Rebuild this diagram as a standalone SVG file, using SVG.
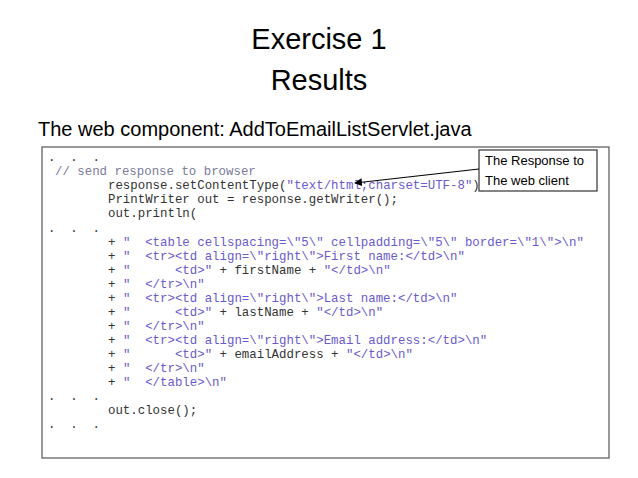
<svg xmlns="http://www.w3.org/2000/svg" width="638" height="478" viewBox="0 0 638 478">
<style>
.t{font-family:"Liberation Sans",Arial,sans-serif;fill:#000}
.c{font-family:"Liberation Mono","Courier New",monospace;font-size:12.4px;fill:#333;white-space:pre}
.s{fill:#6a5acd}
.m{fill:#7a7a9a}
</style>
<defs><marker id="ah" markerWidth="8" markerHeight="8" refX="7" refY="4" orient="auto" markerUnits="userSpaceOnUse"><path d="M0,0 L8,4 L0,8 z" fill="#000"/></marker></defs>
<rect width="638" height="478" fill="#fff"/>
<text class="t" x="319" y="49" font-size="29" text-anchor="middle">Exercise 1</text>
<text class="t" x="319" y="90" font-size="29" text-anchor="middle">Results</text>
<text class="t" x="38" y="136" font-size="20">The web component: AddToEmailListServlet.java</text>
<g id="code">
<rect x="42" y="147" width="567" height="311" fill="#fff" stroke="#555" stroke-width="1.2"/>
<text class="c" x="48" y="161">.  .  .</text>
<text class="c m" x="55" y="175">// send response to browser</text>
<text class="c" x="108" y="189">response.setContentType(<tspan class="s">"text/html;charset=UTF-8"</tspan>);</text>
<text class="c" x="108" y="203">PrintWriter out = response.getWriter();</text>
<text class="c" x="108" y="217">out.println(</text>
<text class="c" x="48" y="232">.  .  .</text>
<text class="c" x="108" y="246">+ <tspan class="s">"  &lt;table cellspacing=\"5\" cellpadding=\"5\" border=\"1\"&gt;\n"</tspan></text>
<text class="c" x="108" y="260">+ <tspan class="s">"  &lt;tr&gt;&lt;td align=\"right\"&gt;First name:&lt;/td&gt;\n"</tspan></text>
<text class="c" x="108" y="274">+ <tspan class="s">"      &lt;td&gt;"</tspan> + firstName + <tspan class="s">"&lt;/td&gt;\n"</tspan></text>
<text class="c" x="108" y="288">+ <tspan class="s">"  &lt;/tr&gt;\n"</tspan></text>
<text class="c" x="108" y="302">+ <tspan class="s">"  &lt;tr&gt;&lt;td align=\"right\"&gt;Last name:&lt;/td&gt;\n"</tspan></text>
<text class="c" x="108" y="316">+ <tspan class="s">"      &lt;td&gt;"</tspan> + lastName + <tspan class="s">"&lt;/td&gt;\n"</tspan></text>
<text class="c" x="108" y="330">+ <tspan class="s">"  &lt;/tr&gt;\n"</tspan></text>
<text class="c" x="108" y="344">+ <tspan class="s">"  &lt;tr&gt;&lt;td align=\"right\"&gt;Email address:&lt;/td&gt;\n"</tspan></text>
<text class="c" x="108" y="358">+ <tspan class="s">"      &lt;td&gt;"</tspan> + emailAddress + <tspan class="s">"&lt;/td&gt;\n"</tspan></text>
<text class="c" x="108" y="372">+ <tspan class="s">"  &lt;/tr&gt;\n"</tspan></text>
<text class="c" x="108" y="386">+ <tspan class="s">"  &lt;/table&gt;\n"</tspan></text>
<text class="c" x="48" y="400">.  .  .</text>
<text class="c" x="108" y="414">out.close();</text>
<text class="c" x="48" y="428">.  .  .</text>
</g>
<g id="callout">
<rect x="479" y="150" width="118" height="41" fill="#fff" stroke="#333" stroke-width="1.2"/>
<text class="t" x="485" y="165" font-size="13">The Response to</text>
<text class="t" x="485" y="185" font-size="13">The web client</text>
</g>
<g id="connectors">
<line x1="479" y1="169" x2="355" y2="183" stroke="#000" stroke-width="1.2" marker-end="url(#ah)"/>
</g>
</svg>
